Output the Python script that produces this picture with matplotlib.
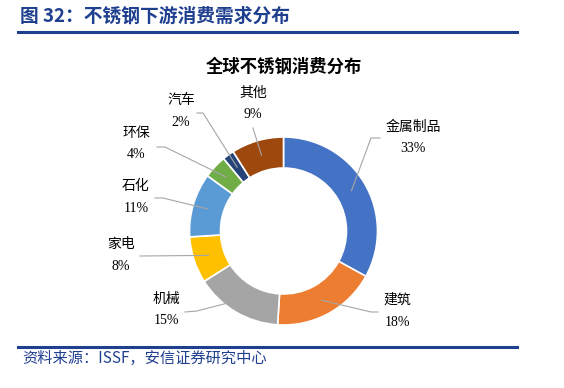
import matplotlib.pyplot as plt
import numpy as np

# data
categories = ['金属制品', '建筑', '机械', '家电', '石化', '环保', '汽车', '其他']
shares = [33, 18, 15, 8, 11, 4, 2, 9]
colors = ['#4472C4', '#ED7D31', '#A5A5A5', '#FFC000', '#5B9BD5', '#70AD47', '#264478', '#9E480E']

# label anchor positions in pixels (x, y from top), and leader line start / elbow
label_pos = [(413, 138), (397, 311), (166, 310), (121, 255), (136, 197), (136, 144), (181, 111), (253, 104)]
leader_start = [[(380, 138), (371, 138)], [(378, 312), (371, 312)], [(185, 312), (197, 311)],
                [(140, 256)], [(155, 198), (163, 198)], [(157, 147), (165, 147)],
                [(197, 113), (203, 113)], [(253, 128)]]

W, H = 564, 388
BLUE = '#1F3F8F'
CJK = ['Noto Sans CJK SC', 'DejaVu Sans']
LBL = ['Liberation Serif', 'Noto Sans CJK SC']

fig = plt.figure(figsize=(W / 100, H / 100), dpi=100)
ax = fig.add_axes([0, 0, 1, 1])

cx, cy, r = 283.5, H - 231, 94
wedges, _ = ax.pie(shares, colors=colors, startangle=90, counterclock=False,
                   center=(cx, cy), radius=r, frame=True,
                   wedgeprops=dict(width=r * 0.33, edgecolor='white', linewidth=1.2))
ax.set_xlim(0, W)
ax.set_ylim(0, H)
ax.axis('off')

# labels and leader lines
for w, name, val, (lx, ly), pts in zip(wedges, categories, shares, label_pos, leader_start):
    mid = np.deg2rad((w.theta1 + w.theta2) / 2)
    rr = r * 0.84
    px, py = cx + rr * np.cos(mid), cy + rr * np.sin(mid)
    ax.text(lx, H - ly + 11, name, ha='center', va='center', fontsize=10, family=LBL)
    ax.text(lx, H - ly - 11, f'{val}%', ha='center', va='center', fontsize=10, family=LBL)
    xs = [p[0] for p in pts] + [px]
    ys = [H - p[1] for p in pts] + [py]
    ax.plot(xs, ys, color='#A6A6A6', lw=0.8)

ax.text(cx, H - 67, '全球不锈钢消费分布', ha='center', va='center',
        fontsize=12.5, fontweight='bold', family=CJK)

# header and footer
fig.text(20 / W, 1 - 16 / H, '图 32：不锈钢下游消费需求分布', ha='left', va='center',
         fontsize=13.5, fontweight='bold', color=BLUE, family=CJK)
ax.plot([18, 517], [H - 32, H - 32], color=BLUE, lw=2.2)
ax.plot([18, 517], [H - 347, H - 347], color=BLUE, lw=2.2)
fig.text(22 / W, 1 - 358 / H, '资料来源：ISSF，安信证券研究中心', ha='left', va='center',
         fontsize=11, color=BLUE, family=CJK, style='italic')

fig.savefig('out.png', dpi=100)
